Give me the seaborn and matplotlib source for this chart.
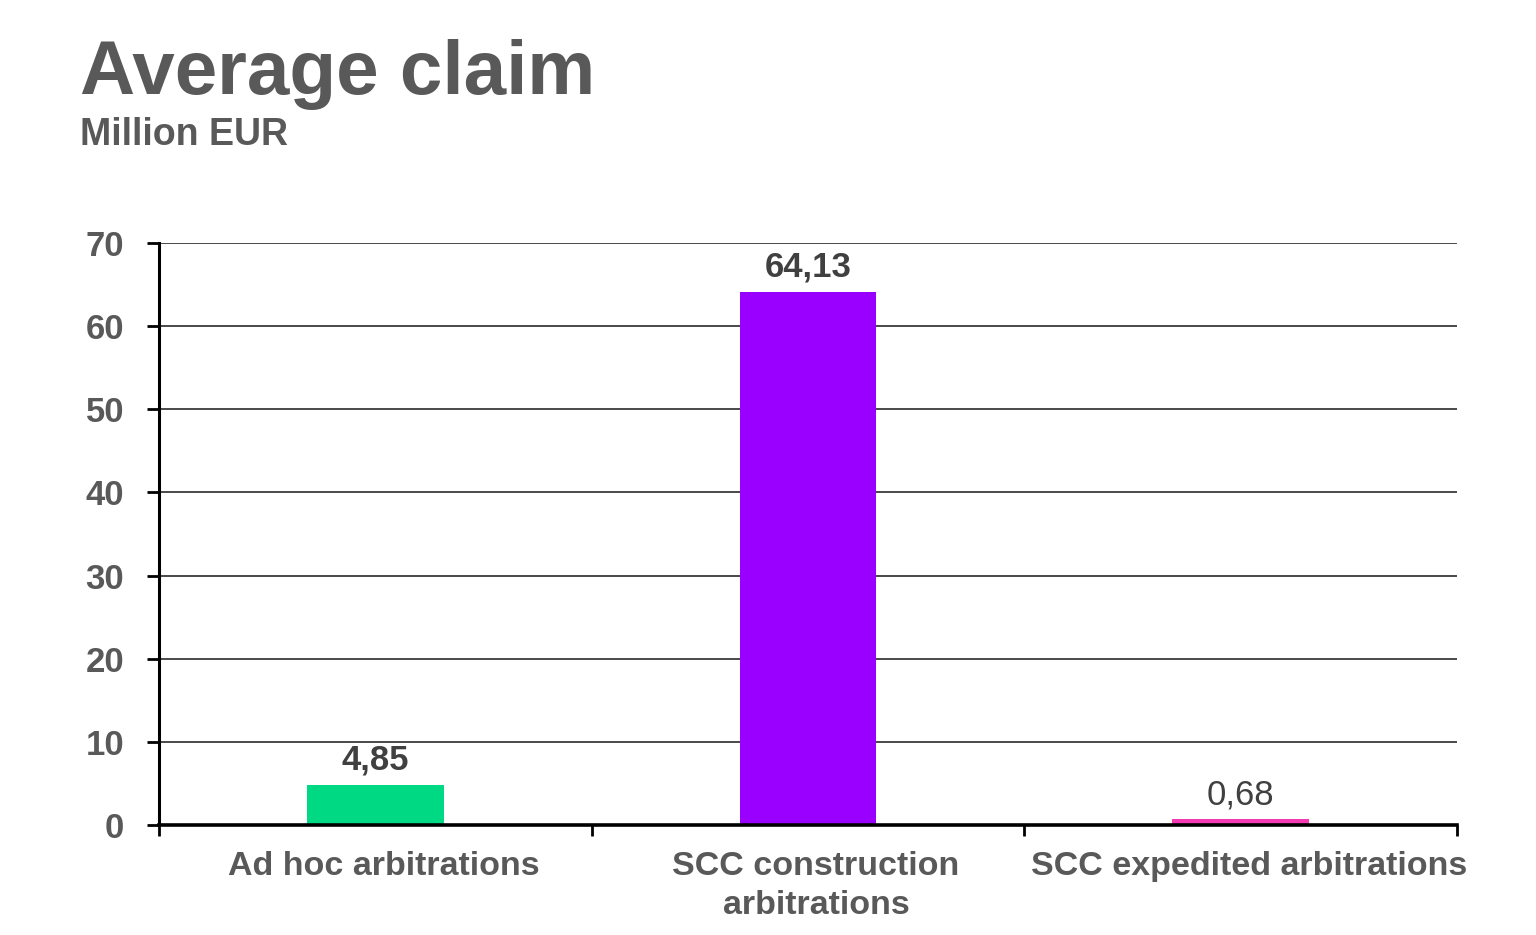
import pandas as pd
import seaborn as sns
import matplotlib.pyplot as plt
import matplotlib.transforms as mtransforms
from matplotlib.ticker import FixedLocator

# Data
categories = ["Ad hoc arbitrations", "SCC construction\narbitrations", "SCC expedited arbitrations"]
values = [4.85, 64.13, 0.68]
value_labels = ["4,85", "64,13", "0,68"]
label_weights = ["bold", "bold", "normal"]
colors = ["#00D983", "#9900FF", "#F53BB4"]

df = pd.DataFrame({"category": categories, "value": values})

sns.set_style("white")
plt.rcParams["font.family"] = ["Liberation Sans", "DejaVu Sans"]

fig = plt.figure(figsize=(15.36, 9.35), dpi=100)
ax = fig.add_axes([0.1035, 0.1176, 0.8451, 0.6225])

sns.barplot(
    data=df, x="category", y="value", hue="category",
    palette=colors, width=0.316, legend=False, ax=ax, saturation=1,
    linewidth=0, edgecolor="none"
)

ax.set_xlim(-0.5, 2.5)
ax.set_ylim(0, 70)
ax.set_yticks(range(0, 71, 10))
ax.yaxis.grid(True, color="#3a3a3a", linewidth=1.3)
ax.set_axisbelow(True)

for s in ["top", "right"]:
    ax.spines[s].set_visible(False)
ax.spines["left"].set_linewidth(2.2)
ax.spines["bottom"].set_linewidth(2.6)
ax.spines["left"].set_color("black")
ax.spines["bottom"].set_color("black")

ax.tick_params(axis="y", which="major", left=True, direction="out", length=9, width=2,
               color="black", pad=16, labelsize=25, labelcolor="#595959")
for t in ax.get_yticklabels():
    t.set_fontweight("bold")

# category labels at centres, tick marks at the boundaries
ax.tick_params(axis="x", which="major", bottom=True, length=0, pad=19,
               labelsize=24.5, labelcolor="#595959")
ax.xaxis.set_minor_locator(FixedLocator([-0.5, 0.5, 1.5, 2.5]))
ax.tick_params(axis="x", which="minor", bottom=True, direction="out", length=8, width=2,
               color="black")
shift = mtransforms.ScaledTranslation(8 / 100, 0, fig.dpi_scale_trans)
for t in ax.get_xticklabels():
    t.set_fontweight("bold")
    t.set_linespacing(1.3)
    t.set_transform(t.get_transform() + shift)
ax.set_xlabel("")
ax.set_ylabel("")

for i, (v, lab, w) in enumerate(zip(values, value_labels, label_weights)):
    ax.annotate(lab, (i, v), xytext=(0, 6), textcoords="offset points",
                ha="center", va="bottom", fontsize=25, fontweight=w, color="#404040")

fig.text(0.052, 0.9, "Average claim", fontsize=55, fontweight="bold", color="#595959")
fig.text(0.052, 0.845, "Million EUR", fontsize=27, fontweight="bold", color="#595959")

plt.savefig("out.png", dpi=100)
